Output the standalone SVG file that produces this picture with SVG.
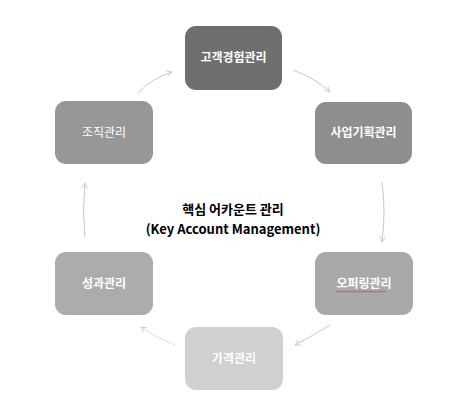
<svg xmlns="http://www.w3.org/2000/svg" width="470" height="420" viewBox="0 0 470 420">
<style>
.n{stroke:none}
.t{font-family:"Noto Sans CJK KR","Noto Sans",sans-serif;font-size:12px;font-weight:bold;fill:#ffffff;text-anchor:middle}
.r{font-weight:normal}
.c{fill:none;stroke:#c8c8c8;stroke-width:1;marker-end:url(#ah)}
.ct{font-family:"Noto Sans CJK KR","Noto Sans",sans-serif;font-size:13px;font-weight:bold;fill:#000000;text-anchor:middle}
</style>
<defs>
<marker id="ah" viewBox="0 0 10 10" refX="9" refY="5" markerWidth="7" markerHeight="7" orient="auto" markerUnits="userSpaceOnUse">
<path d="M1,1 L9,5 L1,9" fill="none" stroke="#c8c8c8" stroke-width="1.2"/>
</marker>
</defs>
<rect width="470" height="420" fill="#ffffff"/>
<g id="connectors">
<path class="c" d="M138,93 Q152,78 172,72"/>
<path class="c" d="M293,70 Q315,78 330,92"/>
<path class="c" d="M382,182 Q386,212 382,242"/>
<path class="c" d="M330,325 Q312,336 295,345"/>
<path class="c" d="M175,345 Q156,338 141,327" stroke-opacity="0.6"/>
<path class="c" d="M85,237 Q82,210 85,183"/>
</g>
<g id="node-customer">
<rect class="n" x="185" y="26" width="97" height="64" rx="11" fill="#6f6f6f"/>
<text class="t" x="233.5" y="62">고객경험관리</text>
</g>
<g id="node-planning">
<rect class="n" x="315" y="102" width="97" height="62" rx="11" fill="#8e8e8e"/>
<text class="t" x="363.5" y="137">사업기획관리</text>
</g>
<g id="node-offering">
<rect class="n" x="315" y="252" width="98" height="63" rx="11" fill="#a9a9a9"/>
<text class="t" x="364" y="288">오퍼링관리</text>
<path d="M336,291 l2,1.2 l2,-1.2 l2,1.2 l2,-1.2 l2,1.2 l2,-1.2 l2,1.2 l2,-1.2 l2,1.2 l2,-1.2 l2,1.2 l2,-1.2 l2,1.2 l2,-1.2 l2,1.2 l2,-1.2 l2,1.2 l2,-1.2 l2,1.2 l2,-1.2 l2,1.2 l2,-1.2 l2,1.2 l2,-1.2 l2,1.2" fill="none" stroke="#d04040" stroke-width="0.8"/>
</g>
<g id="node-price">
<rect class="n" x="185" y="327" width="98" height="63" rx="11" fill="#d0d0d0"/>
<text class="t" x="234" y="363" fill="#f4f4f4">가격관리</text>
</g>
<g id="node-performance">
<rect class="n" x="55" y="252" width="98" height="63" rx="11" fill="#acacac"/>
<text class="t" x="104" y="288">성과관리</text>
</g>
<g id="node-organization">
<rect class="n" x="55" y="101" width="98" height="63" rx="11" fill="#979797"/>
<text class="t r" x="104" y="137">조직관리</text>
</g>
<g id="center">
<text class="ct" x="233" y="214">핵심 어카운트 관리</text>
<text class="ct" x="233" y="233.5">(Key Account Management)</text>
</g>
</svg>
